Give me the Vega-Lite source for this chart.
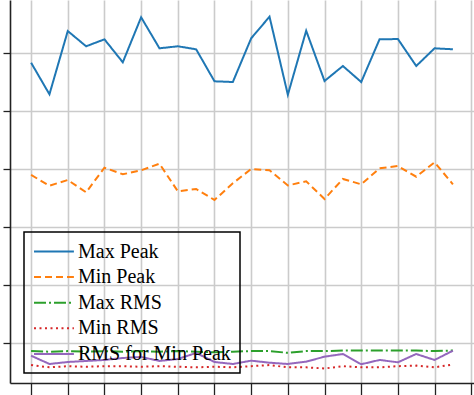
{
  "$schema": "https://vega.github.io/schema/vega-lite/v6.json",
  "width": 464,
  "height": 383,
  "autosize": {"type": "none"},
  "padding": {"left": 10, "top": 0, "right": 0, "bottom": 12},
  "background": "white",
  "config": {
    "view": {"stroke": null},
    "axis": {
      "labels": false,
      "title": null,
      "grid": true,
      "gridColor": "#cbcbcb",
      "gridWidth": 1.6,
      "tickColor": "#222222",
      "tickWidth": 1.3,
      "domainColor": "#222222",
      "domainWidth": 1.6
    },
    "legend": {
      "orient": "none",
      "legendX": 14,
      "legendY": 232,
      "title": null,
      "strokeColor": "black",
      "strokeWidth": 1.5,
      "cornerRadius": 0,
      "padding": 9,
      "labelFont": "Times New Roman, Liberation Serif, serif",
      "labelFontSize": 20,
      "labelColor": "black",
      "labelOffset": 24,
      "symbolType": "M-1,0H3.2",
      "symbolSize": 361,
      "symbolStrokeWidth": 2,
      "rowPadding": 4.6,
      "labelLimit": 300
    }
  },
  "data": {
    "values": [
      {"i": 0, "s": "Max Peak", "v": 5.833},
      {"i": 1, "s": "Max Peak", "v": 5.288},
      {"i": 2, "s": "Max Peak", "v": 6.379},
      {"i": 3, "s": "Max Peak", "v": 6.116},
      {"i": 4, "s": "Max Peak", "v": 6.236},
      {"i": 5, "s": "Max Peak", "v": 5.840},
      {"i": 6, "s": "Max Peak", "v": 6.616},
      {"i": 7, "s": "Max Peak", "v": 6.081},
      {"i": 8, "s": "Max Peak", "v": 6.116},
      {"i": 9, "s": "Max Peak", "v": 6.064},
      {"i": 10, "s": "Max Peak", "v": 5.512},
      {"i": 11, "s": "Max Peak", "v": 5.500},
      {"i": 12, "s": "Max Peak", "v": 6.253},
      {"i": 13, "s": "Max Peak", "v": 6.626},
      {"i": 14, "s": "Max Peak", "v": 5.281},
      {"i": 15, "s": "Max Peak", "v": 6.384},
      {"i": 16, "s": "Max Peak", "v": 5.517},
      {"i": 17, "s": "Max Peak", "v": 5.776},
      {"i": 18, "s": "Max Peak", "v": 5.500},
      {"i": 19, "s": "Max Peak", "v": 6.236},
      {"i": 20, "s": "Max Peak", "v": 6.241},
      {"i": 21, "s": "Max Peak", "v": 5.776},
      {"i": 22, "s": "Max Peak", "v": 6.081},
      {"i": 23, "s": "Max Peak", "v": 6.064},
      {"i": 0, "s": "Min Peak", "v": 3.897},
      {"i": 1, "s": "Min Peak", "v": 3.712},
      {"i": 2, "s": "Min Peak", "v": 3.810},
      {"i": 3, "s": "Min Peak", "v": 3.598},
      {"i": 4, "s": "Min Peak", "v": 4.022},
      {"i": 5, "s": "Min Peak", "v": 3.909},
      {"i": 6, "s": "Min Peak", "v": 3.978},
      {"i": 7, "s": "Min Peak", "v": 4.091},
      {"i": 8, "s": "Min Peak", "v": 3.616},
      {"i": 9, "s": "Min Peak", "v": 3.655},
      {"i": 10, "s": "Min Peak", "v": 3.466},
      {"i": 11, "s": "Min Peak", "v": 3.753},
      {"i": 12, "s": "Min Peak", "v": 4.000},
      {"i": 13, "s": "Min Peak", "v": 3.978},
      {"i": 14, "s": "Min Peak", "v": 3.716},
      {"i": 15, "s": "Min Peak", "v": 3.788},
      {"i": 16, "s": "Min Peak", "v": 3.483},
      {"i": 17, "s": "Min Peak", "v": 3.828},
      {"i": 18, "s": "Min Peak", "v": 3.736},
      {"i": 19, "s": "Min Peak", "v": 4.012},
      {"i": 20, "s": "Min Peak", "v": 4.052},
      {"i": 21, "s": "Min Peak", "v": 3.867},
      {"i": 22, "s": "Min Peak", "v": 4.116},
      {"i": 23, "s": "Min Peak", "v": 3.736},
      {"i": 0, "s": "Max RMS", "v": 0.86},
      {"i": 1, "s": "Max RMS", "v": 0.85},
      {"i": 2, "s": "Max RMS", "v": 0.86},
      {"i": 3, "s": "Max RMS", "v": 0.85},
      {"i": 4, "s": "Max RMS", "v": 0.86},
      {"i": 5, "s": "Max RMS", "v": 0.85},
      {"i": 6, "s": "Max RMS", "v": 0.86},
      {"i": 7, "s": "Max RMS", "v": 0.85},
      {"i": 8, "s": "Max RMS", "v": 0.86},
      {"i": 9, "s": "Max RMS", "v": 0.85},
      {"i": 10, "s": "Max RMS", "v": 0.84},
      {"i": 11, "s": "Max RMS", "v": 0.85},
      {"i": 12, "s": "Max RMS", "v": 0.86},
      {"i": 13, "s": "Max RMS", "v": 0.86},
      {"i": 14, "s": "Max RMS", "v": 0.83},
      {"i": 15, "s": "Max RMS", "v": 0.86},
      {"i": 16, "s": "Max RMS", "v": 0.86},
      {"i": 17, "s": "Max RMS", "v": 0.87},
      {"i": 18, "s": "Max RMS", "v": 0.87},
      {"i": 19, "s": "Max RMS", "v": 0.87},
      {"i": 20, "s": "Max RMS", "v": 0.87},
      {"i": 21, "s": "Max RMS", "v": 0.87},
      {"i": 22, "s": "Max RMS", "v": 0.86},
      {"i": 23, "s": "Max RMS", "v": 0.87},
      {"i": 0, "s": "Min RMS", "v": 0.62},
      {"i": 1, "s": "Min RMS", "v": 0.58},
      {"i": 2, "s": "Min RMS", "v": 0.60},
      {"i": 3, "s": "Min RMS", "v": 0.59},
      {"i": 4, "s": "Min RMS", "v": 0.60},
      {"i": 5, "s": "Min RMS", "v": 0.60},
      {"i": 6, "s": "Min RMS", "v": 0.59},
      {"i": 7, "s": "Min RMS", "v": 0.60},
      {"i": 8, "s": "Min RMS", "v": 0.59},
      {"i": 9, "s": "Min RMS", "v": 0.58},
      {"i": 10, "s": "Min RMS", "v": 0.59},
      {"i": 11, "s": "Min RMS", "v": 0.58},
      {"i": 12, "s": "Min RMS", "v": 0.60},
      {"i": 13, "s": "Min RMS", "v": 0.62},
      {"i": 14, "s": "Min RMS", "v": 0.58},
      {"i": 15, "s": "Min RMS", "v": 0.58},
      {"i": 16, "s": "Min RMS", "v": 0.56},
      {"i": 17, "s": "Min RMS", "v": 0.60},
      {"i": 18, "s": "Min RMS", "v": 0.58},
      {"i": 19, "s": "Min RMS", "v": 0.58},
      {"i": 20, "s": "Min RMS", "v": 0.60},
      {"i": 21, "s": "Min RMS", "v": 0.61},
      {"i": 22, "s": "Min RMS", "v": 0.58},
      {"i": 23, "s": "Min RMS", "v": 0.63},
      {"i": 0, "s": "RMS for Min Peak", "v": 0.781},
      {"i": 1, "s": "RMS for Min Peak", "v": 0.638},
      {"i": 2, "s": "RMS for Min Peak", "v": 0.672},
      {"i": 3, "s": "RMS for Min Peak", "v": 0.690},
      {"i": 4, "s": "RMS for Min Peak", "v": 0.707},
      {"i": 5, "s": "RMS for Min Peak", "v": 0.741},
      {"i": 6, "s": "RMS for Min Peak", "v": 0.759},
      {"i": 7, "s": "RMS for Min Peak", "v": 0.690},
      {"i": 8, "s": "RMS for Min Peak", "v": 0.724},
      {"i": 9, "s": "RMS for Min Peak", "v": 0.828},
      {"i": 10, "s": "RMS for Min Peak", "v": 0.672},
      {"i": 11, "s": "RMS for Min Peak", "v": 0.638},
      {"i": 12, "s": "RMS for Min Peak", "v": 0.695},
      {"i": 13, "s": "RMS for Min Peak", "v": 0.660},
      {"i": 14, "s": "RMS for Min Peak", "v": 0.638},
      {"i": 15, "s": "RMS for Min Peak", "v": 0.678},
      {"i": 16, "s": "RMS for Min Peak", "v": 0.764},
      {"i": 17, "s": "RMS for Min Peak", "v": 0.810},
      {"i": 18, "s": "RMS for Min Peak", "v": 0.633},
      {"i": 19, "s": "RMS for Min Peak", "v": 0.707},
      {"i": 20, "s": "RMS for Min Peak", "v": 0.667},
      {"i": 21, "s": "RMS for Min Peak", "v": 0.810},
      {"i": 22, "s": "RMS for Min Peak", "v": 0.707},
      {"i": 23, "s": "RMS for Min Peak", "v": 0.867}
    ]
  },
  "mark": {"type": "line", "strokeWidth": 2, "clip": true},
  "encoding": {
    "x": {
      "field": "i",
      "type": "quantitative",
      "scale": {"domain": [-1.15, 24.15], "nice": false, "zero": false},
      "axis": {"values": [0, 2, 4, 6, 8, 10, 12, 14, 16, 18, 20, 22, 24], "tickSize": 12}
    },
    "y": {
      "field": "v",
      "type": "quantitative",
      "scale": {"domain": [0.31, 6.914], "nice": false, "zero": false},
      "axis": {"values": [1, 2, 3, 4, 5, 6], "tickSize": 7}
    },
    "color": {
      "field": "s",
      "type": "nominal",
      "scale": {
        "domain": ["Max Peak", "Min Peak", "Max RMS", "Min RMS", "RMS for Min Peak"],
        "range": ["#1f77b4", "#ff7f0e", "#2ca02c", "#d62728", "#9467bd"]
      }
    },
    "strokeDash": {
      "field": "s",
      "type": "nominal",
      "scale": {
        "domain": ["Max Peak", "Min Peak", "Max RMS", "Min RMS", "RMS for Min Peak"],
        "range": [[1, 0], [7, 4], [12, 3, 2, 3], [2, 3.5], [1, 0]]
      }
    }
  }
}
